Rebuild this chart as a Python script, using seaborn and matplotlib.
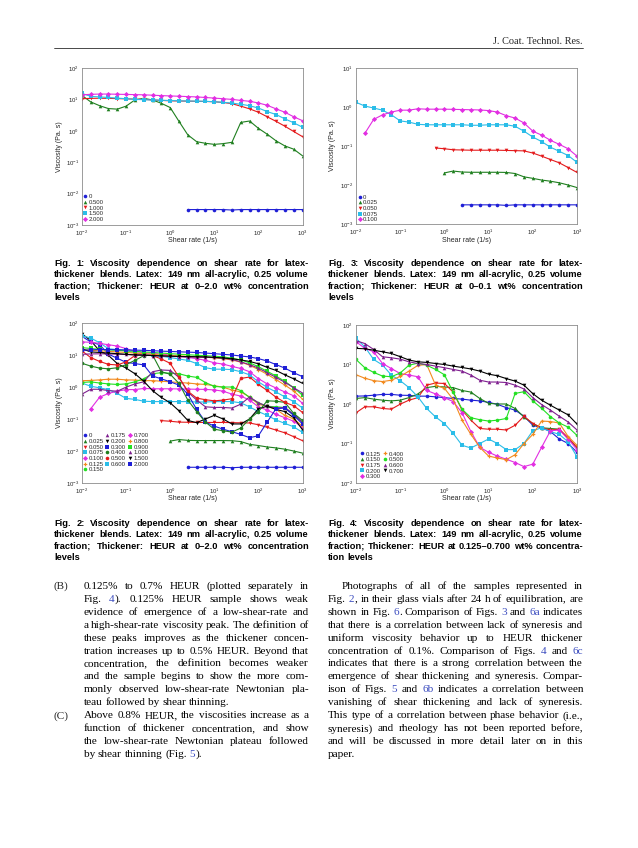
import numpy as np
import pandas as pd
import matplotlib
matplotlib.use('Agg')
import matplotlib.pyplot as plt
from matplotlib.lines import Line2D
from matplotlib.ticker import LogLocator, NullLocator
import seaborn as sns

nan = np.nan

# shear rate grid (1/s), 5 points per decade
shear_rate = [0.01, 0.0158, 0.0251, 0.0398, 0.0631, 0.1, 0.158, 0.251, 0.398, 0.631,
              1.0, 1.58, 2.51, 3.98, 6.31, 10.0, 15.8, 25.1, 39.8, 63.1,
              100.0, 158.0, 251.0, 398.0, 631.0, 1000.0]

# viscosity (Pa.s) per HEUR concentration (wt%)
visc_0 = [nan, nan, nan, nan, nan, nan, nan, nan, nan, nan, nan, nan,
          0.0031, 0.0031, 0.0031, 0.0031, 0.0031, 0.0030, 0.0031, 0.0031,
          0.0031, 0.0031, 0.0031, 0.0031, 0.0031, 0.0031]
visc_0025 = [nan, nan, nan, nan, nan, nan, nan, nan, nan, nan,
             0.0204, 0.0228, 0.0215, 0.0212, 0.0212, 0.0212, 0.0212, 0.0210, 0.0197, 0.0162,
             0.0148, 0.0134, 0.0125, 0.0114, 0.0100, 0.0086]
visc_005 = [nan, nan, nan, nan, nan, nan, nan, nan, nan,
            0.089, 0.085, 0.080, 0.079, 0.078, 0.078, 0.078, 0.078, 0.077, 0.076, 0.075,
            0.066, 0.055, 0.045, 0.037, 0.028, 0.021]
visc_0075 = [1.32, 1.06, 0.94, 0.83, 0.63, 0.44, 0.41, 0.36, 0.35, 0.35,
             0.35, 0.35, 0.35, 0.34, 0.34, 0.35, 0.35, 0.35, 0.32, 0.24,
             0.17, 0.13, 0.093, 0.073, 0.057, 0.038]
visc_01 = [nan, 0.21, 0.48, 0.63, 0.74, 0.83, 0.83, 0.90, 0.88, 0.88,
           0.88, 0.87, 0.86, 0.85, 0.84, 0.81, 0.74, 0.60, 0.52, 0.39,
           0.24, 0.19, 0.14, 0.11, 0.085, 0.055]
visc_0125 = [1.58, 1.60, 1.67, 1.75, 1.75, 1.67, 1.65, 1.58, 1.58, 1.52,
             1.45, 1.38, 1.33, 1.25, 1.20, 1.10, 0.98, 0.81, 0.70, 0.49,
             0.29, 0.25, 0.20, 0.13, 0.10, 0.06]
visc_015 = [1.38, 1.45, 1.33, 1.25, 1.20, 1.25, 1.45, 1.80, 2.6, 2.8,
            2.7, 2.6, 2.2, 2.0, 1.38, 1.04, 1.0, 1.0, 0.77, 0.47,
            0.32, 0.25, 0.24, 0.23, 0.13, 0.08]
visc_0175 = [0.60, 0.85, 0.85, 0.77, 0.74, 0.99, 1.25, 1.45, 3.0, 3.4,
             3.3, 2.0, 0.70, 0.39, 0.24, 0.23, 0.23, 0.22, 0.29, 0.49,
             0.32, 0.25, 0.22, 0.23, 0.14, 0.08]
visc_02 = [46.0, 28.0, 13.4, 9.7, 5.4, 3.9, 2.6, 1.52, 0.77, 0.47,
           0.32, 0.18, 0.09, 0.077, 0.10, 0.13, 0.10, 0.070, 0.070, 0.10,
           0.21, 0.25, 0.20, 0.17, 0.11, 0.046]
visc_03 = [38.0, 25.6, 21.0, 10.6, 7.9, 5.9, 5.4, 4.9, 2.2, 1.8,
           1.45, 1.15, 0.60, 0.20, 0.08, 0.06, 0.048, 0.040, 0.033, 0.026,
           0.030, 0.08, 0.21, 0.22, 0.13, 0.07]
visc_04 = [5.5, 4.5, 3.9, 3.7, 4.0, 5.0, 6.8, 9.5, 10.0, 3.0,
           2.5, 1.3, 0.39, 0.17, 0.08, 0.048, 0.043, 0.039, 0.052, 0.10,
           0.17, 0.37, 0.36, 0.33, 0.15, 0.09]
visc_05 = [13.4, 8.3, 6.3, 5.1, 4.9, 6.1, 9.6, 10.8, 9.6, 7.5,
           5.5, 2.0, 0.74, 0.45, 0.40, 0.37, 0.39, 0.43, 1.85, 2.05,
           1.2, 0.78, 0.48, 0.33, 0.26, 0.16]
visc_06 = [40.0, 34.0, 24.0, 15.7, 14.8, 13.7, 11.7, 10.6, 10.0, 9.1,
           8.3, 7.5, 6.8, 5.4, 4.0, 3.6, 3.6, 3.5, 3.0, 2.4,
           1.45, 0.97, 0.70, 0.49, 0.35, 0.22]
visc_07 = [25.6, 25.0, 23.0, 21.0, 19.0, 15.8, 13.0, 11.7, 11.3, 10.6,
           10.0, 9.1, 8.4, 7.7, 6.8, 5.7, 5.2, 4.4, 3.8, 3.0,
           1.83, 1.25, 0.93, 0.70, 0.53, 0.31]
visc_08 = [15.0, 14.0, 13.5, 13.0, 12.5, 12.0, 11.5, 11.0, 10.5, 10.0,
           9.7, 9.4, 9.1, 8.8, 8.5, 8.2, 7.7, 7.0, 6.0, 4.8,
           3.5, 2.5, 1.7, 1.15, 0.75, 0.42]
visc_09 = [17.0, 16.0, 15.0, 14.5, 14.0, 13.5, 13.0, 12.5, 12.0, 11.5,
           11.0, 10.6, 10.2, 9.8, 9.5, 9.2, 8.7, 8.0, 7.0, 5.7,
           4.3, 3.1, 2.2, 1.5, 0.95, 0.55]
visc_1 = [10.5, 10.8, 10.9, 10.8, 10.6, 10.4, 10.2, 10.0, 9.6, 9.3,
          9.0, 8.9, 8.8, 8.7, 8.6, 8.4, 8.0, 7.3, 6.1, 5.0,
          3.9, 2.8, 2.0, 1.4, 0.95, 0.65]
visc_15 = [15.5, 12.5, 12.0, 11.5, 11.0, 10.5, 10.0, 9.8, 9.6, 9.4,
           9.2, 9.0, 8.9, 8.8, 8.7, 8.4, 8.1, 7.6, 7.0, 6.3,
           5.3, 4.1, 3.3, 2.4, 1.8, 1.3]
visc_2 = [14.0, 14.5, 14.8, 14.8, 14.6, 14.4, 14.2, 14.0, 13.6, 13.2,
          12.9, 12.6, 12.3, 12.0, 11.5, 11.0, 10.5, 10.0, 9.3, 8.7,
          7.7, 6.5, 5.0, 3.9, 2.8, 2.1]

series = {
    '0': visc_0, '0.025': visc_0025, '0.050': visc_005, '0.075': visc_0075,
    '0.100': visc_01, '0.125': visc_0125, '0.150': visc_015, '0.175': visc_0175,
    '0.200': visc_02, '0.300': visc_03, '0.400': visc_04, '0.500': visc_05,
    '0.600': visc_06, '0.700': visc_07, '0.800': visc_08, '0.900': visc_09,
    '1.000': visc_1, '1.500': visc_15, '2.000': visc_2,
}

fig1_labels = ['0', '0.500', '1.000', '1.500', '2.000']
fig3_labels = ['0', '0.025', '0.050', '0.075', '0.100']
fig4_labels = ['0.125', '0.150', '0.175', '0.200', '0.300', '0.400', '0.500', '0.600', '0.700']
fig2_labels = list(series.keys())

cycle_colors = ['#1f1fd6', '#1f7f1f', '#e41a1c', '#2bbde8', '#e22ee2',
                '#f28a1e', '#22e022', '#7f1f8f', '#000000']
cycle_markers = ['o', '^', 'v', 's', 'D', 'P', 'o', '^', 'v']
fig2_markers = ['o', '^', 'v', 's', 'D', 'P', 'o', '^', 'v', 's',
                'o', 'o', 's', 'D', 'P', 's', '^', 'v', 's']

sns.set_theme(style='white')
plt.rcParams['font.family'] = ['Liberation Sans', 'DejaVu Sans']
plt.rcParams['mathtext.fontset'] = 'custom'
plt.rcParams['mathtext.rm'] = 'Liberation Sans'
plt.rcParams['mathtext.default'] = 'rm'

W, H = 638, 848
fig = plt.figure(figsize=(W / 100, H / 100), dpi=100)
fig.patch.set_facecolor('white')


def panel(box, labels, colors, markers, ylim, ncol, anchor, colspace, xlab_y, ylab_x):
    x0, y0, x1, y1 = box
    ax = fig.add_axes([x0 / W, 1 - y1 / H, (x1 - x0) / W, (y1 - y0) / H])
    ax.set(xscale='log', yscale='log')
    df = pd.concat([pd.DataFrame({'shear': shear_rate, 'visc': series[k], 'conc': k})
                    for k in labels]).dropna()
    sns.lineplot(data=df, x='shear', y='visc', hue='conc', style='conc',
                 hue_order=labels, style_order=labels,
                 palette=dict(zip(labels, colors)), markers=dict(zip(labels, markers)),
                 dashes=False, estimator=None, legend=False, linewidth=0.8,
                 markersize=2.6, markeredgewidth=0, ax=ax)
    ax.set_xlim(1e-2, 1e3)
    ax.set_ylim(*ylim)
    ax.xaxis.set_major_locator(LogLocator(base=10, numticks=12))
    ax.xaxis.set_minor_locator(LogLocator(base=10, subs=np.arange(2, 10), numticks=12))
    ax.yaxis.set_major_locator(LogLocator(base=10, numticks=12))
    ax.yaxis.set_minor_locator(NullLocator())
    for sp in ax.spines.values():
        sp.set_color('#8c8c8c')
        sp.set_linewidth(0.6)
    ax.tick_params(which='both', direction='in', color='#8c8c8c', labelsize=4.3)
    ax.tick_params(axis='x', pad=2.6)
    ax.tick_params(axis='y', pad=2.0)
    ax.tick_params(which='major', length=2.5, width=0.5)
    ax.tick_params(which='minor', length=1.3, width=0.4)
    ax.set_xlabel('Shear rate (1/s)', fontsize=5)
    ax.set_ylabel('Viscosity (Pa. s)', fontsize=5)
    ax.xaxis.set_label_coords(0.5, xlab_y)
    ax.yaxis.set_label_coords(ylab_x, 0.5)
    handles = [Line2D([], [], color=c, marker=m, linestyle='none', markersize=2.6,
                      markeredgewidth=0) for c, m in zip(colors, markers)]
    ax.legend(handles, labels, loc='lower left', bbox_to_anchor=anchor, ncol=ncol,
              frameon=False, fontsize=4.3, handlelength=0.6, handletextpad=0.3,
              labelspacing=0.08, borderaxespad=0, borderpad=0, columnspacing=colspace)
    return ax


panel((82, 68, 302.5, 225), fig1_labels, cycle_colors[:5], cycle_markers[:5],
      (1e-3, 1e2), 1, (0.005, 0.02), 0.5, -0.075, -0.085)
panel((356, 68, 577, 224), fig3_labels, cycle_colors[:5], cycle_markers[:5],
      (1e-3, 1e1), 1, (0.008, 0.01), 0.5, -0.086, -0.09)
panel((82, 323, 302.5, 483), fig2_labels, (cycle_colors * 3)[:19], fig2_markers,
      (1e-3, 1e2), 3, (0.006, 0.066), 0.3, -0.078, -0.085)
panel((356, 325, 577, 483), fig4_labels, cycle_colors, cycle_markers,
      (1e-2, 1e2), 2, (0.018, 0.024), 0.5, -0.075, -0.09)

# ---- page text ----
renderer = fig.canvas.get_renderer()
link = '#3a4bbf'


def text_w(s, size, family, weight):
    t = fig.text(0, 0, s, fontsize=size, family=family, weight=weight)
    w = t.get_window_extent(renderer).width
    t.remove()
    return w


def parse(word):
    segs, buf, blue = [], '', False
    for ch in word:
        if ch in '{}':
            if buf:
                segs.append((buf, blue))
            buf = ''
            blue = ch == '{'
        else:
            buf += ch
    if buf:
        segs.append((buf, blue))
    return segs


def put_line(line, x0, x1, y, size, family, weight='normal', justify=True):
    words = [parse(w) for w in line.split()]
    widths = [[text_w(s, size, family, weight) for s, _ in sg] for sg in words]
    total = sum(sum(ws) for ws in widths)
    if justify and len(words) > 1:
        gap = (x1 - x0 - total) / (len(words) - 1)
    else:
        gap = 0.26 * size * 100 / 72
    x = x0
    for sg, ws in zip(words, widths):
        for (s, blue), w in zip(sg, ws):
            fig.text(x / W, 1 - y / H, s, fontsize=size, family=family, weight=weight,
                     color=link if blue else 'black', ha='left', va='baseline')
            x += w
        x += gap


def put_block(lines, x0, x1, y0, dy, size, family, weight='normal', first_indent=0):
    for i, line in enumerate(lines):
        xs = x0 + (first_indent if i == 0 else 0)
        put_line(line, xs, x1, y0 + i * dy, size, family, weight,
                 justify=i < len(lines) - 1)


serif = ['Liberation Serif', 'DejaVu Serif']
sans = ['Liberation Sans', 'DejaVu Sans']

fig.text(583 / W, 1 - 43.5 / H, 'J. Coat. Technol. Res.', fontsize=7.4, family=serif,
         ha='right', va='baseline')
fig.add_artist(Line2D([54 / W, 583 / W], [1 - 48.3 / H, 1 - 48.3 / H],
                      transform=fig.transFigure, color='black', linewidth=0.5))

cap_common = ['thickener blends. Latex: 149 nm all-acrylic, 0.25 volume']
cap1 = ['Fig. 1: Viscosity dependence on shear rate for latex-'] + cap_common + \
       ['fraction; Thickener: HEUR at 0\u20132.0 wt% concentration', 'levels']
cap3 = ['Fig. 3: Viscosity dependence on shear rate for latex-'] + cap_common + \
       ['fraction; Thickener: HEUR at 0\u20130.1 wt% concentration', 'levels']
cap2 = ['Fig. 2: Viscosity dependence on shear rate for latex-'] + cap_common + \
       ['fraction; Thickener: HEUR at 0\u20132.0 wt% concentration', 'levels']
cap4 = ['Fig. 4: Viscosity dependence on shear rate for latex-'] + cap_common + \
       ['fraction; Thickener: HEUR at 0.125\u20130.700 wt% concentra-', 'tion levels']

cap_size = 6.7
put_block(cap1, 54, 309, 265.8, 11.5, cap_size, sans, 'bold')
put_block(cap3, 328, 583, 265.8, 11.5, cap_size, sans, 'bold')
put_block(cap2, 54, 309, 525.8, 11.5, cap_size, sans, 'bold')
put_block(cap4, 328, 583, 525.8, 11.5, cap_size, sans, 'bold')

item_b = [
    '0.125% to 0.7% HEUR (plotted separately in',
    'Fig. {4}). 0.125% HEUR sample shows weak',
    'evidence of emergence of a low-shear-rate and',
    'a high-shear-rate viscosity peak. The definition of',
    'these peaks improves as the thickener concen-',
    'tration increases up to 0.5% HEUR. Beyond that',
    'concentration, the definition becomes weaker',
    'and the sample begins to show the more com-',
    'monly observed low-shear-rate Newtonian pla-',
    'teau followed by shear thinning.',
]
item_c = [
    'Above 0.8% HEUR, the viscosities increase as a',
    'function of thickener concentration, and show',
    'the low-shear-rate Newtonian plateau followed',
    'by shear thinning (Fig. {5}).',
]
right_par = [
    'Photographs of all of the samples represented in',
    'Fig. {2}, in their glass vials after 24 h of equilibration, are',
    'shown in Fig. {6}. Comparison of Figs. {3} and {6a} indicates',
    'that there is a correlation between lack of syneresis and',
    'uniform viscosity behavior up to HEUR thickener',
    'concentration of 0.1%. Comparison of Figs. {4} and {6c}',
    'indicates that there is a strong correlation between the',
    'emergence of shear thickening and syneresis. Compar-',
    'ison of Figs. {5} and {6b} indicates a correlation between',
    'vanishing of shear thickening and lack of syneresis.',
    'This type of a correlation between phase behavior (i.e.,',
    'syneresis) and rheology has not been reported before,',
    'and will be discussed in more detail later on in this',
    'paper.',
]

body_size = 8.1
y_body = 588.8
dy_body = 12.95
fig.text(54 / W, 1 - y_body / H, '(B)', fontsize=body_size, family=serif, va='baseline')
put_block(item_b, 83.5, 309, y_body, dy_body, body_size, serif)
y_c = y_body + len(item_b) * dy_body
fig.text(54 / W, 1 - y_c / H, '(C)', fontsize=body_size, family=serif, va='baseline')
put_block(item_c, 83.5, 309, y_c, dy_body, body_size, serif)
put_block(right_par, 328, 583, y_body, dy_body, body_size, serif, first_indent=14)

fig.savefig('out.png', dpi=100, facecolor='white')
